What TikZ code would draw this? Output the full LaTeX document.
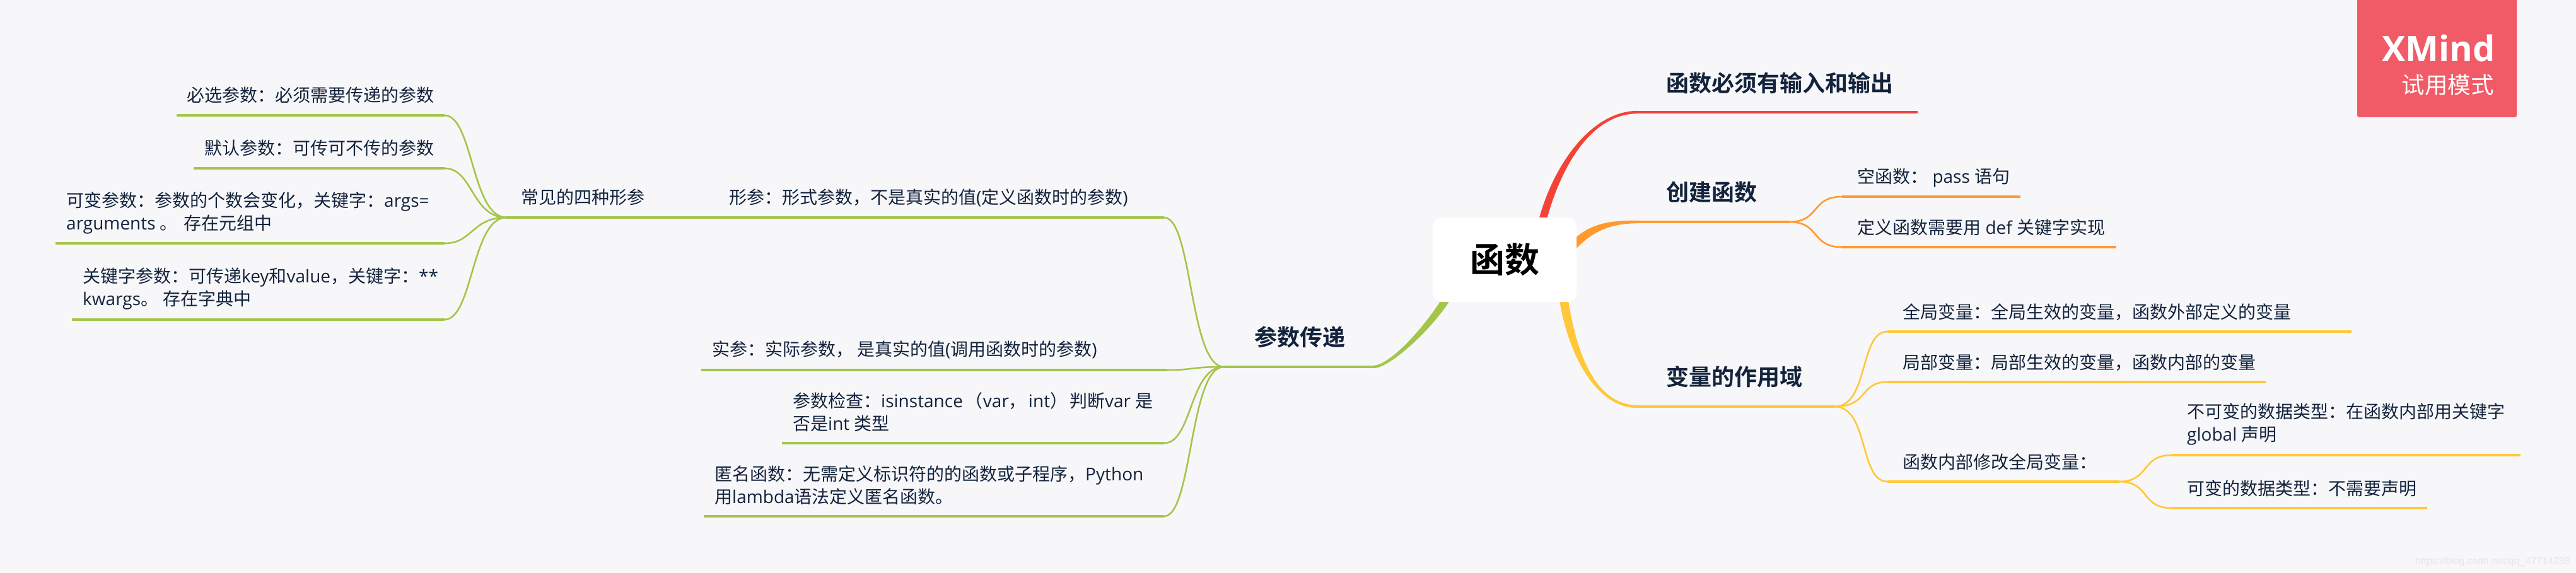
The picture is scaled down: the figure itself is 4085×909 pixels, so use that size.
\documentclass[tikz,border=0pt]{standalone}
\usepackage{fontspec}
\setmainfont{Open Sans}
\newfontfamily\cjk{Noto Sans CJK SC}[BoldFont={Noto Sans CJK SC Bold}]
\newfontfamily\wmfont{Liberation Sans}
\usetikzlibrary{calc}
\pgfdeclarelayer{back}
\pgfsetlayers{back,main}
\definecolor{bgc}{HTML}{F7F7FA}
\definecolor{ink}{HTML}{13233C}
\definecolor{cred}{HTML}{F44336}
\definecolor{corange}{HTML}{FF9A2E}
\definecolor{cyellow}{HTML}{FFC73A}
\definecolor{cgreen}{HTML}{A4C549}
\definecolor{badge}{HTML}{F15B67}
\newcommand\cj[1]{{\cjk #1}}
\newcommand\Trunk[8]{% colour, start, end, c1, c2, half-width offset
  \fill[#1] ($(#2)+(#6,#7)$) .. controls ($(#4)+(#6,#7)$) and ($(#5)+(0,-#8)$) .. ($(#3)+(0,-#8)$)
     -- ($(#3)+(0,#8)$) .. controls ($(#5)+(0,#8)$) and ($(#4)-(#6,#7)$) .. ($(#2)-(#6,#7)$) -- cycle;}
\tikzset{
  x=1pt,y=-1pt,
  leaf/.style={anchor=west,inner sep=0pt,text=ink,font=\fontsize{28}{36}\selectfont,align=left},
  main/.style={anchor=west,inner sep=0pt,text=ink,font=\fontsize{36}{40}\selectfont\bfseries},
  rootbox/.style={fill=white,rounded corners=14pt,inner sep=0pt,minimum width=228pt,minimum height=134pt,font=\fontsize{55}{60}\selectfont\bfseries,text=black},
  under/.style={line width=4pt},
  twig/.style={line width=2.6pt},
}
\begin{document}
\begin{tikzpicture}
\useasboundingbox (0,0) rectangle (4085,909);
% nodes
\node[rootbox] (root) at (2386,412) {\cj{函数}};
\node[main] (m1) at (2642,132) {\cj{函数必须有输入和输出}};
\node[main] (m2) at (2642,305) {\cj{创建函数}};
\node[main] (m3) at (2642,598) {\cj{变量的作用域}};
\node[main] (m4) at (1989,535) {\cj{参数传递}};
\node[leaf] (a1) at (2945,282) {\cj{空函数：} pass \cj{语句}};
\node[leaf] (a2) at (2945,361) {\cj{定义函数需要用} def \cj{关键字实现}};
\node[leaf] (b1) at (3017,495) {\cj{全局变量：全局生效的变量，函数外部定义的变量}};
\node[leaf] (b2) at (3017,575) {\cj{局部变量：局部生效的变量，函数内部的变量}};
\node[leaf] (b3) at (3017,733) {\cj{函数内部修改全局变量：}};
\node[leaf] (c1) at (3468,673) {\cj{不可变的数据类型：在函数内部用关键字}\\global \cj{声明}};
\node[leaf] (c2) at (3468,775) {\cj{可变的数据类型：不需要声明}};
\node[leaf] (p0) at (1156,314) {\cj{形参：形式参数，不是真实的值}(\cj{定义函数时的参数})};
\node[leaf] (p1) at (1129,555) {\cj{实参：实际参数，}\hspace{6pt}\cj{是真实的值}(\cj{调用函数时的参数})};
\node[leaf] (p2) at (1257,654) {\cj{参数检查：}isinstance\hspace{4pt}\cj{（}var\cj{，}\hspace{3pt}int\cj{）}\hspace{3pt}\cj{判断}var \cj{是}\\\cj{否是}int \cj{类型}};
\node[leaf] (p3) at (1133,770) {\cj{匿名函数：无需定义标识符的的函数或子程序，}Python\\\cj{用}lambda\cj{语法定义匿名函数。}};
\node[leaf] (q0) at (826,313) {\cj{常见的四种形参}};
\node[leaf] (q1) at (296,151) {\cj{必选参数：必须需要传递的参数}};
\node[leaf] (q2) at (324,235) {\cj{默认参数：可传可不传的参数}};
\node[leaf] (q3) at (105,338) {\cj{可变参数：参数的个数会变化，关键字：}args=\\arguments \cj{。}\hspace{10pt}\cj{存在元组中}};
\node[leaf] (q4) at (131,458) {\cj{关键字参数：可传递}key\cj{和}value\cj{，关键字：}**\\kwargs\cj{。}\hspace{7pt}\cj{存在字典中}};
% badge
\node[fill=badge,rounded corners=3pt,minimum width=253pt,minimum height=196pt,inner sep=0pt] (bd) at (3864.5,88) {};
\node[anchor=east,inner sep=0pt,text=white,font=\fontsize{56}{60}\selectfont\bfseries] (bd1) at (3957,77) {XMind};
\node[anchor=east,inner sep=0pt,text=white,font=\fontsize{36.5}{40}\selectfont] (bd2) at (3955,135) {\cj{试用模式}};
\node[anchor=east,inner sep=0pt,text=black!7!bgc,font=\fontsize{16}{18}\selectfont\wmfont] (wm) at (4076,891) {https://blog.csdn.net/qq\_47714288};
% anchor points of connectors
\coordinate (r1) at (2446,350);
\coordinate (r1c) at (2470,260);
\coordinate (m1a) at (2597,178); \coordinate (m1ac) at (2525,178); \coordinate (m1b) at (3041,178);
\coordinate (r2) at (2497,388);
\coordinate (r2c) at (2525,358);
\coordinate (m2a) at (2597,352); \coordinate (m2ac) at (2560,352); \coordinate (m2b) at (2837,352);
\coordinate (r3) at (2479,470);
\coordinate (r3c) at (2492,560);
\coordinate (m3a) at (2597,645); \coordinate (m3ac) at (2530,645); \coordinate (m3b) at (2909,645);
\coordinate (r4) at (2296,470);
\coordinate (r4c) at (2270,515);
\coordinate (m4a) at (2178,582); \coordinate (m4ac) at (2205,582); \coordinate (m4b) at (1941,582);
\coordinate (a1s) at (2921,312); \coordinate (a1e) at (3204,312);
\coordinate (a2s) at (2921,392); \coordinate (a2e) at (3356,392);
\coordinate (b1s) at (2993,526); \coordinate (b1e) at (3729,526);
\coordinate (b2s) at (2993,606); \coordinate (b2e) at (3593,606);
\coordinate (b3s) at (2993,764); \coordinate (b3e) at (3360,764);
\coordinate (c1s) at (3444,722); \coordinate (c1e) at (3997,722);
\coordinate (c2s) at (3444,806); \coordinate (c2e) at (3849,806);
\coordinate (p0s) at (1846,345); \coordinate (q0s) at (803,345);
\coordinate (p1s) at (1850,587); \coordinate (p1e) at (1112,587);
\coordinate (p2s) at (1846,703); \coordinate (p2e) at (1240,703);
\coordinate (p3s) at (1846,819); \coordinate (p3e) at (1116,819);
\coordinate (q1s) at (705,183); \coordinate (q1e) at (280,183);
\coordinate (q2s) at (705,267); \coordinate (q2e) at (307,267);
\coordinate (q3s) at (705,386); \coordinate (q3e) at (88,386);
\coordinate (q4s) at (705,507); \coordinate (q4e) at (114,507);
\begin{pgfonlayer}{back}
\fill[bgc] (0,0) rectangle (4085,909);
% trunks
\Trunk{cred}{r1}{m1a}{r1c}{m1ac}{-6}{-1}{2.2}
\draw[cred,under] (m1a) -- (m1b);
\Trunk{corange}{r2}{m2a}{r2c}{m2ac}{-3}{-6}{2.2}
\draw[corange,under] (m2a) -- (m2b);
\Trunk{cyellow}{r3}{m3a}{r3c}{m3ac}{7}{0}{2.2}
\draw[cyellow,under] (m3a) -- (m3b);
\Trunk{cgreen}{r4}{m4a}{r4c}{m4ac}{-6}{-2}{2.2}
\draw[cgreen,under] (m4a) -- (m4b);
% orange branches
\draw[corange,twig] (m2b) .. controls +(50,0) and +(-50,0) .. (a1s);
\draw[corange,twig] (m2b) .. controls +(50,0) and +(-50,0) .. (a2s);
\draw[corange,under] (a1s) -- (a1e);
\draw[corange,under] (a2s) -- (a2e);
% yellow branches
\draw[cyellow,twig] (m3b) .. controls +(55,0) and +(-45,0) .. (b1s);
\draw[cyellow,twig] (m3b) .. controls +(55,0) and +(-45,0) .. (b2s);
\draw[cyellow,twig] (m3b) .. controls +(55,0) and +(-45,0) .. (b3s);
\draw[cyellow,under] (b1s) -- (b1e);
\draw[cyellow,under] (b2s) -- (b2e);
\draw[cyellow,under] (b3s) -- (b3e);
\draw[cyellow,twig] (b3e) .. controls +(50,0) and +(-50,0) .. (c1s);
\draw[cyellow,twig] (b3e) .. controls +(50,0) and +(-50,0) .. (c2s);
\draw[cyellow,under] (c1s) -- (c1e);
\draw[cyellow,under] (c2s) -- (c2e);
% green branches
\draw[cgreen,twig] (m4b) .. controls +(-55,0) and +(45,0) .. (p0s);
\draw[cgreen,twig] (m4b) .. controls +(-55,0) and +(45,0) .. (p1s);
\draw[cgreen,twig] (m4b) .. controls +(-55,0) and +(45,0) .. (p2s);
\draw[cgreen,twig] (m4b) .. controls +(-55,0) and +(45,0) .. (p3s);
\draw[cgreen,under] (p0s) -- (q0s);
\draw[cgreen,under] (p1s) -- (p1e);
\draw[cgreen,under] (p2s) -- (p2e);
\draw[cgreen,under] (p3s) -- (p3e);
\draw[cgreen,twig] (q0s) .. controls +(-55,0) and +(45,0) .. (q1s);
\draw[cgreen,twig] (q0s) .. controls +(-55,0) and +(45,0) .. (q2s);
\draw[cgreen,twig] (q0s) .. controls +(-55,0) and +(45,0) .. (q3s);
\draw[cgreen,twig] (q0s) .. controls +(-55,0) and +(45,0) .. (q4s);
\draw[cgreen,under] (q1s) -- (q1e);
\draw[cgreen,under] (q2s) -- (q2e);
\draw[cgreen,under] (q3s) -- (q3e);
\draw[cgreen,under] (q4s) -- (q4e);
\end{pgfonlayer}
\end{tikzpicture}
\end{document}
